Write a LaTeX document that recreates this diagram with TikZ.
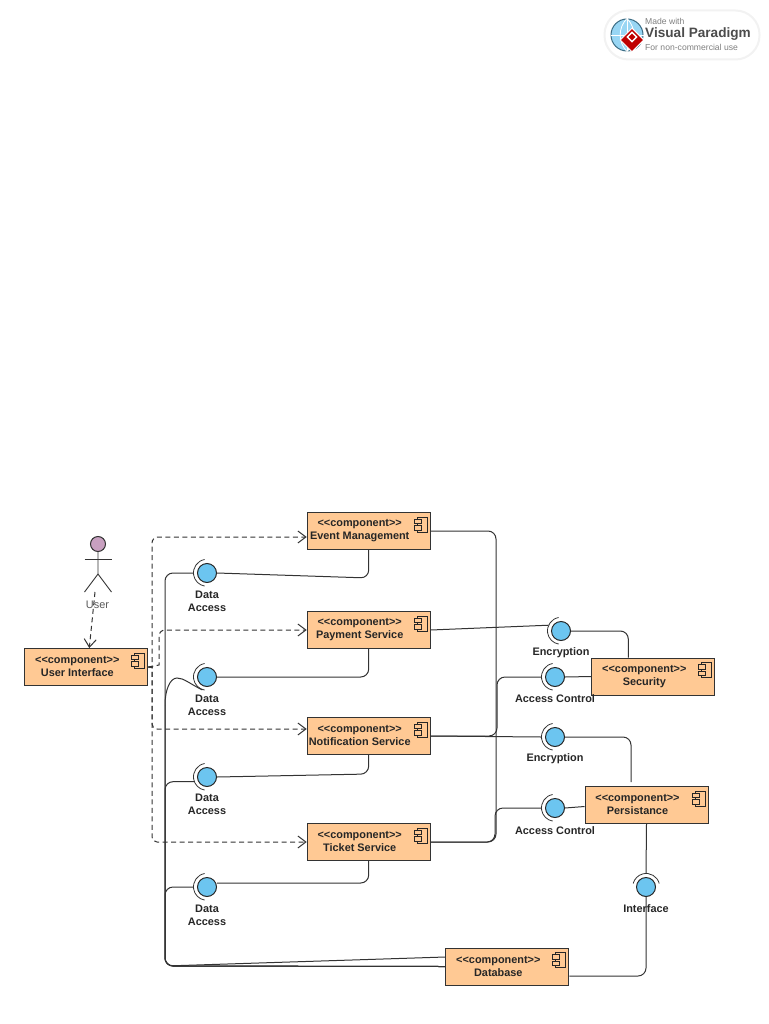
\documentclass[tikz,border=0pt]{standalone}
\usepackage{xcolor}
\usepackage{fontspec}
\setmainfont{Liberation Sans}
\usetikzlibrary{arrows.meta,shapes,positioning}
\definecolor{boxfill}{HTML}{FFC994}
\definecolor{ballfill}{HTML}{6CC5F0}
\definecolor{headfill}{HTML}{C8A0C0}
\definecolor{inkline}{HTML}{333333}
\definecolor{logogray}{HTML}{808080}
\tikzset{
	comp/.style={draw=inkline, line width=1pt, fill=boxfill, rectangle, minimum width=123pt, minimum height=37pt, inner sep=0pt},
	comptxt/.style={font=\bfseries\fontsize{10.9}{13}\selectfont, text=black!85, align=center, inner sep=0pt},
	ball/.style={draw=black!85, line width=1pt, fill=ballfill, circle, minimum size=19pt, inner sep=0pt},
	ring/.style={circle, minimum size=27pt, inner sep=0pt},
	wire/.style={draw=inkline, line width=1pt, rounded corners=8pt},
	dsh/.style={draw=inkline, line width=1pt, dash pattern=on 5pt off 3.5pt, ->, >={Straight Barb[length=8pt,width=12pt]}},
}
\begin{document}
\begin{tikzpicture}[x=1pt,y=-1pt]
	\useasboundingbox (0,0) rectangle (768,1024);

	% logo
	\node[draw=black!5, line width=2pt, fill=white, rectangle, rounded corners=24pt, minimum width=155pt, minimum height=49pt] (Logo) at (682,35) {};
	\node[draw=black!45!ballfill, line width=1pt, fill=ballfill!70, circle, minimum size=32pt, inner sep=0pt] (Globe) at (627,35) {};
	\draw[draw=white, line width=.8pt] (Globe.west) -- (Globe.east);
	\draw[draw=white, line width=.8pt] (Globe.north) -- (Globe.south);
	\draw[draw=white, line width=.8pt] (Globe.north) to[bend right=45] (Globe.south);
	\draw[draw=white, line width=.8pt] (Globe.north) to[bend left=45] (Globe.south);
	\node[draw=white, line width=1pt, fill=red!75!black, diamond, minimum size=24pt, inner sep=0pt] (Mark) at (632,40) {};
	\node[draw=white, line width=1.4pt, diamond, minimum size=10pt, inner sep=0pt] (MarkIn) at (632,37) {};
	\node[font=\fontsize{8.6}{9}\selectfont, text=logogray, anchor=west, inner sep=0pt] (LogoA) at (645,21) {Made with};
	\node[font=\bfseries\fontsize{13.6}{14}\selectfont, text=black!70, anchor=west, inner sep=0pt] (LogoB) at (645,34) {Visual Paradigm};
	\node[font=\fontsize{8.6}{9}\selectfont, text=logogray, anchor=west, inner sep=0pt] (LogoC) at (645,47) {For non-commercial use};

	% components
	\foreach \n/\x/\y/\t in {UI/86.3/667/User Interface, Evt/368.7/531/Event Management, Pay/368.7/630/Payment Service, Ntf/368.7/736/Notification Service, Tkt/368.7/842/Ticket Service, Sec/653.3/676.5/Security, Per/646.5/805/Persistance, Db/507.3/966.5/Database}{
		\node[comp] (\n) at (\x,\y) {};
		\node[comptxt] (\n-txt) at (\x-9,\y-.4) {{<}{<}component{>}{>}\\\t};
		\draw[draw=black!85, line width=.8pt] (\n.north east) ++(-13.5,5) rectangle ++(10,15);
		\draw[draw=black!85, line width=.8pt, fill=boxfill] (\n.north east) ++(-16.5,7) rectangle ++(7,4.5);
		\draw[draw=black!85, line width=.8pt, fill=boxfill] (\n.north east) ++(-16.5,13.5) rectangle ++(7,4.5);
	}

	% interfaces
	\foreach \n/\x/\y/\a/\b in {DA1/207/573/100/260, DA2/207/677/100/260, DA3/207/777/100/260, DA4/207/887/100/260, EN1/561/631/100/260, AC1/555/677/100/260, EN2/555/737/100/260, AC2/555/808/100/260, IF1/646/887/15/165}{
		\node[ball] (\n) at (\x,\y) {};
		\node[ring] (\n s) at (\x,\y) {};
		\draw[draw=inkline, line width=.8pt] (\n s.\a) arc[start angle=\a, end angle=\b, radius=13.5pt];
	}

	\foreach \n/\x/\y/\t in {DA1l/207/601/{Data\\Access}, DA2l/207/705.5/{Data\\Access}, DA3l/207/804.5/{Data\\Access}, DA4l/207/915/{Data\\Access}, EN1l/561/652.5/Encryption, AC1l/555/698.5/Access Control, EN2l/555/758.5/Encryption, AC2l/555/830.5/Access Control, IF1l/646/908.5/Interface}{
		\node[comptxt] (\n) at (\x,\y) {\t};
	}

	% actor
	\node[draw=inkline, line width=1pt, fill=headfill, circle, minimum size=15pt, inner sep=0pt] (Usr) at (98,544) {};
	\draw[draw=inkline, line width=.9pt] (Usr.south) -- (98,574) -- (84.5,592);
	\draw[draw=inkline, line width=.9pt] (98,574) -- (111.5,592);
	\draw[draw=inkline, line width=.9pt] (84.5,559) -- (111.5,559);
	\node[font=\fontsize{10.9}{13}\selectfont, text=black!65, inner sep=0pt] (UsrL) at (97.5,604.5) {User};

	\coordinate (ActFoot) at (95,592);
	\coordinate (DshW) at (152,667);
	\coordinate (DshP) at (159,665);
	\coordinate (BusW) at (165,966);
	\coordinate (BusM) at (165,705);
	\coordinate (BusE) at (496,842);
	\coordinate (NtfUp) at (497,677);
	\coordinate (TktUp) at (495,808);

	% dependencies
	\draw[dsh] (ActFoot) -- ([xshift=3pt]UI.north);
	\draw[dsh] (UI.east) -- (DshW) {[rounded corners=6pt] |- ([yshift=-6pt]Evt.west)};
	\draw[dsh] (UI.east) -- (DshP) {[rounded corners=6pt] |- (Pay.west)};
	\draw[dsh] (UI.east) -- (DshW) {[rounded corners=5pt] |- ([yshift=7pt]Ntf.west)};
	\draw[dsh] (UI.east) -- (DshW) {[rounded corners=5pt] |- (Tkt.west)};

	% data access
	\draw[wire] (Evt.south) -- ++(0,28) -- (DA1.east);
	\draw[wire] (Pay.south) |- (DA2.east);
	\draw[wire] (Ntf.south) -- ++(0,19) -- (DA3.east);
	\draw[wire] (Tkt.south) -- ++(0,22) -- ([yshift=4pt]DA4.east);
	\draw[wire] (DA1s.west) -| (BusW) -- ([yshift=9.5pt]Db.west);
	\draw[draw=inkline, line width=1pt] (DA2s.250) .. controls (190,684) and (184,678) .. (177,678) .. controls (170,678) and (165,690) .. (BusM);
	\draw[wire] (BusM) -- (BusW) -- (Db.west);
	\draw[wire] (DA3s.200) -| (BusW) -- (Db.west);
	\draw[wire] (DA4s.west) -| (BusW) -- (Db.west);

	% right side
	\draw[wire] (Evt.east) -| (BusE) -- (Tkt.east);
	\draw[wire] (Tkt.east) -| (TktUp) -- (AC2s.west);
	\draw[wire] (Ntf.east) -| (NtfUp) -- (AC1s.west);
	\draw[wire] (Ntf.east) -- (EN2s.west);
	\draw[wire] (Pay.east) -- (EN1s.155);
	\draw[wire] (EN1.east) -| ([xshift=-25pt]Sec.north);
	\draw[wire] (AC1.east) -- (Sec.west);
	\draw[wire] (EN2.east) -| ([xshift=-15.5pt,yshift=4pt]Per.north);
	\draw[wire] (AC2.east) -- ([yshift=-1.5pt]Per.west);
	\draw[wire] (Per.south) -- (IF1s.north);
	\draw[wire] (IF1.south) |- ([yshift=-9.5pt]Db.east);
\end{tikzpicture}
\end{document}
